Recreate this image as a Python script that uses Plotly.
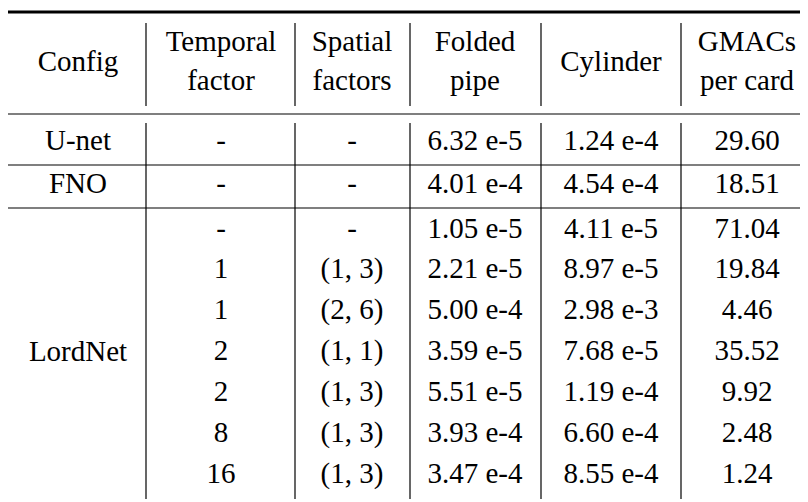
import plotly.graph_objects as go

header_1 = ["Config", "Temporal", "Spatial", "Folded", "Cylinder", "GMACs"]
header_2 = ["", "factor", "factors", "pipe", "", "per card"]
configs = ["U-net", "FNO", "", "", "", "", "", "", ""]
temporal = ["-", "-", "-", "1", "1", "2", "2", "8", "16"]
spatial = ["-", "-", "-", "(1, 3)", "(2, 6)", "(1, 1)", "(1, 3)", "(1, 3)", "(1, 3)"]
folded = ["6.32 e-5", "4.01 e-4", "1.05 e-5", "2.21 e-5", "5.00 e-4", "3.59 e-5", "5.51 e-5", "3.93 e-4", "3.47 e-4"]
cylinder = ["1.24 e-4", "4.54 e-4", "4.11 e-5", "8.97 e-5", "2.98 e-3", "7.68 e-5", "1.19 e-4", "6.60 e-4", "8.55 e-4"]
gmacs = ["29.60", "18.51", "71.04", "19.84", "4.46", "35.52", "9.92", "2.48", "1.24"]

col_x = [70, 213, 344, 467, 603, 739]
vlines_x = [138, 287, 402, 533, 673]
row_y = [135, 178, 223, 263, 304, 345, 386, 427, 468]

FONT = "'Liberation Serif', 'DejaVu Serif', serif"
xs, ys, ts = [], [], []
for i in range(6):
    if header_2[i]:
        xs += [col_x[i], col_x[i]]; ys += [36, 75]; ts += [header_1[i], header_2[i]]
    else:
        xs.append(col_x[i]); ys.append(56); ts.append(header_1[i])
cols = [configs, temporal, spatial, folded, cylinder, gmacs]
for ci, col in enumerate(cols):
    for ri, v in enumerate(col):
        if v:
            xs.append(col_x[ci]); ys.append(row_y[ri]); ts.append(v)
xs.append(col_x[0]); ys.append((row_y[2] + row_y[-1]) / 2); ts.append("LordNet")

fig = go.Figure(go.Scatter(x=xs, y=ys, text=ts, mode="text",
                           textfont=dict(family=FONT, size=29, color="black"),
                           hoverinfo="skip", cliponaxis=False))
shapes = []
def hl(y, w):
    shapes.append(dict(type="line", x0=0, x1=806, y0=y, y1=y, line=dict(color="black", width=w)))
hl(4, 3); hl(106, 1.2); hl(157, 1.2); hl(200, 1.2); hl(497, 3.5)
for x in vlines_x:
    for y0, y1 in [(15, 98), (115, 157), (157, 200), (200, 491)]:
        shapes.append(dict(type="line", x0=x, x1=x, y0=y0, y1=y1, line=dict(color="black", width=1.2)))
fig.update_layout(width=808, height=502, margin=dict(l=0, r=0, t=0, b=0),
                  plot_bgcolor="white", paper_bgcolor="white", shapes=shapes,
                  showlegend=False,
                  xaxis=dict(range=[0, 808], visible=False, fixedrange=True),
                  yaxis=dict(range=[502, 0], visible=False, fixedrange=True))
fig.write_html("out.html", config={"displayModeBar": False})
